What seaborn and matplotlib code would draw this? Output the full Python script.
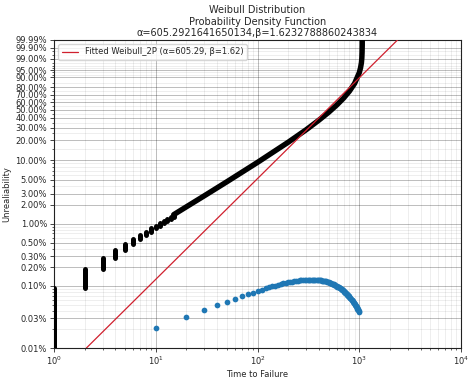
import numpy as np
import matplotlib
matplotlib.use("Agg")
import matplotlib.pyplot as plt
import seaborn as sns
from matplotlib.ticker import FixedLocator, FixedFormatter, NullFormatter

# ---------------- data ----------------
# discrete stacks of failure points (time, unreliability from -> to)
stack_t = [1, 2, 3, 4, 5, 6, 7, 8, 9, 10, 11, 12, 13, 14, 15]
stack_lo = [0.00005, 0.00093, 0.00187, 0.0028, 0.00374, 0.00467, 0.00561, 0.00654,
            0.00748, 0.00841, 0.00935, 0.01028, 0.01121, 0.01215, 0.01308]
stack_hi = [0.00093, 0.00187, 0.0028, 0.00374, 0.00467, 0.00561, 0.00654, 0.00748,
            0.00841, 0.00935, 0.01028, 0.01121, 0.01215, 0.01308, 0.01402]

# dense part of the failure points (continuous band)
band_t = [15, 20, 30, 50, 100, 200, 300, 400, 500, 600, 700, 800, 900, 1000,
          1030, 1050, 1060, 1066, 1070, 1070]
band_F = [0.0140, 0.0187, 0.028, 0.0467, 0.0935, 0.187, 0.280, 0.374, 0.467, 0.561,
          0.654, 0.748, 0.841, 0.935, 0.963, 0.981, 0.991, 0.997, 0.9995, 0.999999]

# blue points (PDF values, in percent)
pdf_t = [10, 20, 30, 40, 50, 60, 70, 80, 90, 100,
         110, 120, 130, 140, 150, 160, 170, 180, 190, 200,
         210, 220, 230, 240, 250, 260, 270, 280, 290, 300,
         310, 320, 330, 340, 350, 360, 370, 380, 390, 400,
         410, 420, 430, 440, 450, 460, 470, 480, 490, 500,
         510, 520, 530, 540, 550, 560, 570, 580, 590, 600,
         610, 620, 630, 640, 650, 660, 670, 680, 690, 700,
         710, 720, 730, 740, 750, 760, 770, 780, 790, 800,
         810, 820, 830, 840, 850, 860, 870, 880, 890, 900,
         910, 920, 930, 940, 950, 960, 970, 980, 990, 1000]
pdf_pct = [0.0208, 0.0319, 0.0409, 0.0487, 0.0557, 0.0620, 0.0678, 0.0732, 0.0781, 0.0827,
           0.0870, 0.0910, 0.0947, 0.0981, 0.1013, 0.1043, 0.1070, 0.1095, 0.1118, 0.1140,
           0.1159, 0.1176, 0.1192, 0.1206, 0.1218, 0.1229, 0.1238, 0.1246, 0.1252, 0.1257,
           0.1261, 0.1264, 0.1265, 0.1265, 0.1264, 0.1262, 0.1259, 0.1254, 0.1249, 0.1243,
           0.1237, 0.1229, 0.1221, 0.1212, 0.1202, 0.1191, 0.1180, 0.1169, 0.1156, 0.1144,
           0.1130, 0.1117, 0.1103, 0.1088, 0.1073, 0.1058, 0.1043, 0.1027, 0.1011, 0.0995,
           0.0979, 0.0963, 0.0946, 0.0929, 0.0912, 0.0896, 0.0879, 0.0862, 0.0845, 0.0828,
           0.0811, 0.0794, 0.0777, 0.0760, 0.0744, 0.0727, 0.0711, 0.0694, 0.0678, 0.0662,
           0.0646, 0.0631, 0.0615, 0.0600, 0.0584, 0.0570, 0.0555, 0.0540, 0.0526, 0.0512,
           0.0498, 0.0484, 0.0471, 0.0457, 0.0444, 0.0432, 0.0419, 0.0407, 0.0395, 0.0383]

# fitted Weibull line (end points)
fit_t = [2.08, 2376.0]
fit_F = [0.0001, 0.9999]
fit_label = "Fitted Weibull_2P (α=605.29, β=1.62)"

title_text = "Weibull Distribution\nProbability Density Function\nα=605.2921641650134,β=1.6232788860243834"

ytick_vals = [0.0001, 0.0003, 0.001, 0.002, 0.003, 0.005, 0.01, 0.02, 0.03, 0.05,
              0.1, 0.2, 0.3, 0.4, 0.5, 0.6, 0.7, 0.8, 0.9, 0.95, 0.99, 0.999, 0.9999]
ytick_labels = ["0.01%", "0.03%", "0.10%", "0.20%", "0.30%", "0.50%", "1.00%", "2.00%",
                "3.00%", "5.00%", "10.00%", "20.00%", "30.00%", "40.00%", "50.00%",
                "60.00%", "70.00%", "80.00%", "90.00%", "95.00%", "99.00%", "99.90%", "99.99%"]
yminor_vals = [0.0002, 0.0004, 0.0005, 0.0006, 0.0007, 0.0008, 0.0009,
               0.004, 0.006, 0.007, 0.008, 0.009,
               0.04, 0.06, 0.07, 0.08, 0.09,
               0.15, 0.25, 0.35, 0.45, 0.55, 0.65, 0.75, 0.85,
               0.92, 0.94, 0.96, 0.97, 0.98, 0.995, 0.998]

# ---------------- plotting ----------------
sns.set_style("ticks")
plt.rcParams['font.family'] = ['DejaVu Sans']
plt.rcParams['axes.linewidth'] = 0.8


def fwd(F):
    F = np.clip(np.asarray(F, dtype=float), 1e-12, 1 - 1e-12)
    return np.log(-np.log(1 - F))


def inv(y):
    return 1 - np.exp(-np.exp(y))


fig, ax = plt.subplots(figsize=(4.74, 3.82), dpi=100)
fig.subplots_adjust(left=0.114, right=0.9726, top=0.8953, bottom=0.089)
ax.set_xscale('log')
ax.set_yscale('function', functions=(fwd, inv))

ax.vlines(stack_t, stack_lo, stack_hi, colors='k', linewidth=3.6, capstyle='round', zorder=3)
sns.lineplot(x=band_t, y=band_F, ax=ax, color='k', linewidth=3.9, estimator=None,
             sort=False, solid_capstyle='round', zorder=3)
sns.lineplot(x=fit_t, y=fit_F, ax=ax, color='#d0202e', linewidth=0.9, estimator=None,
             sort=False, label=fit_label, zorder=4)
blue_F = [v / 100.0 for v in pdf_pct]
sns.scatterplot(x=pdf_t, y=blue_F, ax=ax, color='#1f77b4', s=17, linewidth=0, zorder=5)

ax.set_xlim(1, 1e4)
ax.set_ylim(0.0001, 0.9999)
ax.yaxis.set_major_locator(FixedLocator(ytick_vals))
ax.yaxis.set_major_formatter(FixedFormatter(ytick_labels))
ax.yaxis.set_minor_locator(FixedLocator(yminor_vals))
ax.yaxis.set_minor_formatter(NullFormatter())

ax.grid(True, which='major', color='k', alpha=0.3, linewidth=0.6)
ax.grid(True, which='minor', color='k', alpha=0.08, linewidth=0.6)
ax.set_axisbelow(True)

ax.tick_params(axis='both', which='major', labelsize=6, length=3, width=0.6, pad=2)
ax.tick_params(axis='both', which='minor', length=1.6, width=0.5)
for s in ax.spines.values():
    s.set_visible(True)
    s.set_color('#222222')

ax.set_xlabel("Time to Failure", fontsize=6, labelpad=2)
ax.set_ylabel("Unrealiability", fontsize=6, labelpad=3)
ax.set_title(title_text, fontsize=7.0, pad=3, linespacing=1.15)
ax.legend(loc='upper left', fontsize=6, framealpha=0.8, edgecolor='0.8',
          borderpad=0.4, handlelength=2.0)

fig.savefig("out.png", dpi=100)
